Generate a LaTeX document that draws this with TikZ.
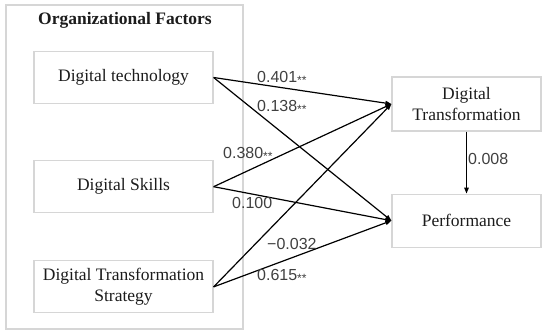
\documentclass[tikz,border=0pt]{standalone}
\usepackage{fontspec}
\setmainfont{Liberation Serif}
\setsansfont{Liberation Sans}
\usepackage{tikz}
\usetikzlibrary{arrows.meta,positioning}
\definecolor{boxgray}{HTML}{D6D6D6}
\definecolor{labgray}{HTML}{404040}
\definecolor{txtdark}{HTML}{1C1C1C}
\newcommand{\sig}{\raisebox{-2pt}{\fontsize{12}{12}\selectfont**}}

\begin{document}
\begin{tikzpicture}[
  x=1pt,y=-1pt,
  factor/.style={rectangle,draw=boxgray,line width=1.2pt,text=txtdark,
                 minimum width=179pt,minimum height=52pt,align=center,
                 font=\fontsize{17.5}{21}\selectfont},
  outcome/.style={factor,minimum width=149pt},
  group/.style={rectangle,draw=boxgray,line width=1.2pt,
                minimum width=237pt,minimum height=324pt},
  arr/.style={-{Triangle[length=6pt,width=4.5pt]},line width=1.2pt,black},
  coef/.style={anchor=west,inner sep=0pt,text=labgray,
               font=\sffamily\fontsize{16}{16}\selectfont}
]
  \useasboundingbox (0,0) rectangle (550,336);

  \node[group] (org) at (124.5,167) {};
  \node[font=\bfseries\fontsize{17.5}{21}\selectfont,text=txtdark] (orgtitle) at (125,20) {Organizational Factors};

  \node[factor] (tech) at (123.5,77.5) {Digital technology};
  \node[factor,below=56pt of tech] (skills) {Digital Skills};
  \node[factor,below=47pt of skills] (strat) {Digital Transformation\\Strategy};

  \node[outcome,minimum height=54pt] (dtrans) at (466.5,104) {Digital\\Transformation};
  \node[outcome,minimum height=53pt,below=62pt of dtrans] (perf) {Performance};

  \draw[arr] (tech.east) -- (dtrans.west);
  \draw[arr] (tech.east) -- (perf.west);
  \draw[arr] (skills.east) -- (dtrans.west);
  \draw[arr] (skills.east) -- (perf.west);
  \draw[arr] (strat.east) -- (dtrans.west);
  \draw[arr] (strat.east) -- (perf.west);
  \draw[arr] (dtrans.south) -- (perf.north);

  % path coefficients
  \node[coef] (cTechDT) at (257,78) {0.401\sig};
  \node[coef] (cTechPerf) at (257,106.5) {0.138\sig};
  \node[coef] (cSkillsDT) at (223,154) {0.380\sig};
  \node[coef] (cSkillsPerf) at (232,203) {0.100};
  \node[coef] (cStratDT) at (267,244) {−0.032};
  \node[coef] (cStratPerf) at (257,276) {0.615\sig};
  \node[coef] (cDTPerf) at (468,159) {0.008};
\end{tikzpicture}
\end{document}
